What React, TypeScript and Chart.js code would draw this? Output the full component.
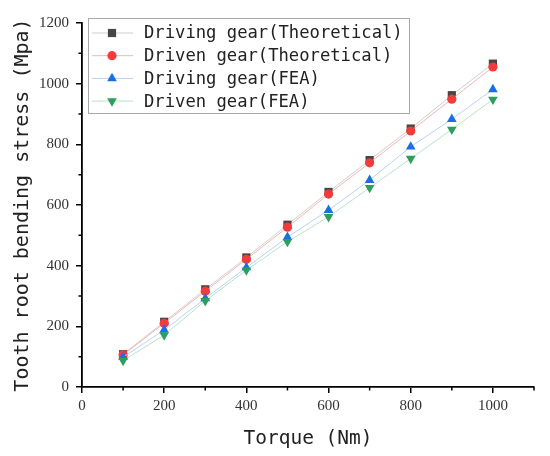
import React, { useEffect, useRef } from "react";
import { Chart, registerables } from "chart.js";

Chart.register(...registerables);

const torque = [100, 200, 300, 400, 500, 600, 700, 800, 900, 1000];
const drivingTheoretical = [108, 215, 322, 427, 535, 643, 748, 852, 962, 1066];
const drivenTheoretical = [106, 210, 316, 421, 527, 636, 739, 844, 949, 1055];
const drivingFEA = [98, 188, 292, 394, 494, 583, 682, 792, 883, 981];
const drivenFEA = [87, 171, 284, 385, 479, 561, 657, 753, 849, 948];

const xMajorTicks = [0, 200, 400, 600, 800, 1000];
const xMinorTicks = [100, 300, 500, 700, 900, 1100];
const yMajorTicks = [0, 200, 400, 600, 800, 1000, 1200];
const yMinorTicks = [100, 300, 500, 700, 900, 1100];

const seriesNames = [
  "Driving gear(Theoretical)",
  "Driven gear(Theoretical)",
  "Driving gear(FEA)",
  "Driven gear(FEA)",
];

const MONO = "'DejaVu Sans Mono', monospace";
const SERIF = "'Liberation Serif', serif";

function drawMarker(ctx: CanvasRenderingContext2D, style: string, rotDeg: number, x: number, y: number, r: number, color: string) {
  ctx.save();
  ctx.fillStyle = color;
  ctx.beginPath();
  if (style === "rect") {
    const s = r * Math.SQRT1_2;
    ctx.rect(x - s, y - s, 2 * s, 2 * s);
  } else if (style === "circle") {
    ctx.arc(x, y, r, 0, Math.PI * 2);
  } else {
    let a = (rotDeg * Math.PI) / 180;
    ctx.moveTo(x + Math.sin(a) * r, y - Math.cos(a) * r);
    a += (2 * Math.PI) / 3;
    ctx.lineTo(x + Math.sin(a) * r, y - Math.cos(a) * r);
    a += (2 * Math.PI) / 3;
    ctx.lineTo(x + Math.sin(a) * r, y - Math.cos(a) * r);
    ctx.closePath();
  }
  ctx.fill();
  ctx.restore();
}

const legendPlugin = {
  id: "customLegend",
  afterDraw(chart: any) {
    const ctx: CanvasRenderingContext2D = chart.ctx;
    const boxL = 88, boxT = 18, boxW = 321, boxH = 95;
    ctx.save();
    ctx.strokeStyle = "#a8a8a8";
    ctx.lineWidth = 1;
    ctx.strokeRect(boxL + 0.5, boxT + 0.5, boxW, boxH);
    chart.data.datasets.forEach((ds: any, i: number) => {
      const y = 33 + i * 22.7;
      ctx.strokeStyle = ds.borderColor;
      ctx.lineWidth = 1;
      ctx.beginPath();
      ctx.moveTo(92, y);
      ctx.lineTo(133, y);
      ctx.stroke();
      drawMarker(ctx, ds.pointStyle, ds.pointRotation || 0, 112, y, ds.pointRadius, ds.pointBackgroundColor);
      ctx.fillStyle = "#222";
      ctx.font = `17.2px ${MONO}`;
      ctx.textBaseline = "middle";
      ctx.textAlign = "left";
      ctx.fillText(ds.label, 144, y + 1);
    });
    ctx.restore();
  },
};

const minorTickPlugin = {
  id: "minorTicks",
  afterDraw(chart: any) {
    const ctx: CanvasRenderingContext2D = chart.ctx;
    const xs = chart.scales.x;
    const ys = chart.scales.y;
    ctx.save();
    ctx.strokeStyle = "#000";
    ctx.lineWidth = 1.5;
    ctx.beginPath();
    xMinorTicks.forEach((v) => {
      const px = xs.getPixelForValue(v);
      ctx.moveTo(px, xs.top);
      ctx.lineTo(px, xs.top + 3.5);
    });
    yMinorTicks.forEach((v) => {
      const py = ys.getPixelForValue(v);
      ctx.moveTo(ys.right, py);
      ctx.lineTo(ys.right - 3.5, py);
    });
    ctx.stroke();
    ctx.restore();
  },
};

export default function App() {
  const ref = useRef<HTMLCanvasElement | null>(null);
  useEffect(() => {
    if (!ref.current) return;
    const mk = (label: string, vals: number[], line: string, fill: string, style: string, rot: number, r: number, order: number) => ({
      label,
      data: torque.map((x, i) => ({ x, y: vals[i] })),
      borderColor: line,
      borderWidth: 1,
      pointStyle: style,
      pointRotation: rot,
      pointRadius: r,
      pointHoverRadius: r,
      pointBackgroundColor: fill,
      pointBorderColor: fill,
      pointBorderWidth: 0,
      showLine: true,
      fill: false,
      tension: 0,
      order,
    });
    const chart = new Chart(ref.current, {
      type: "line",
      data: {
        datasets: [
          mk(seriesNames[0], drivingTheoretical, "#cfcfcf", "#454545", "rect", 0, 5.8, 4),
          mk(seriesNames[1], drivenTheoretical, "#f3b4b4", "#f23b3b", "circle", 0, 4.6, 3),
          mk(seriesNames[2], drivingFEA, "#b9d1f3", "#1c6fe3", "triangle", 0, 5.6, 2),
          mk(seriesNames[3], drivenFEA, "#b8e3c8", "#2e9e5c", "triangle", 180, 5.6, 1),
        ] as any,
      },
      options: {
        animation: false,
        responsive: true,
        maintainAspectRatio: false,
        layout: { padding: { top: 23, right: 16, left: 0, bottom: 0 } },
        plugins: { legend: { display: false }, tooltip: { enabled: false } },
        scales: {
          x: {
            type: "linear",
            min: 0,
            max: 1100,
            afterBuildTicks: (s: any) => {
              s.ticks = xMajorTicks.map((v) => ({ value: v }));
            },
            afterFit: (s: any) => {
              s.height = 69;
            },
            ticks: {
              color: "#333",
              font: { family: SERIF, size: 15 },
              padding: 4,
              maxRotation: 0,
              autoSkip: false,
              callback: (v: any) => String(v),
            },
            grid: { drawOnChartArea: false, tickLength: 6, tickColor: "#000", tickWidth: 1.5, lineWidth: 1.5 },
            border: { color: "#000", width: 1.8 },
            title: {
              display: true,
              text: "Torque (Nm)",
              color: "#222",
              font: { family: MONO, size: 19.5 },
              padding: { top: 0, bottom: 5 },
            },
          },
          y: {
            type: "linear",
            min: 0,
            max: 1200,
            afterBuildTicks: (s: any) => {
              s.ticks = yMajorTicks.map((v) => ({ value: v }));
            },
            afterFit: (s: any) => {
              s.width = 82;
            },
            ticks: {
              color: "#333",
              font: { family: SERIF, size: 15 },
              padding: 7,
              autoSkip: false,
              callback: (v: any) => String(v),
            },
            grid: { drawOnChartArea: false, tickLength: 6, tickColor: "#000", tickWidth: 1.5, lineWidth: 1.5 },
            border: { color: "#000", width: 1.8 },
            title: {
              display: true,
              text: "Tooth root bending stress (Mpa)",
              color: "#222",
              font: { family: MONO, size: 20 },
              padding: { top: 11, bottom: 0 },
            },
          },
        },
      },
      plugins: [minorTickPlugin, legendPlugin],
    });
    return () => chart.destroy();
  }, []);
  return (
    <div style={{ position: "fixed", left: 0, top: 0, width: 550, height: 456, background: "#fff" }}>
      <canvas ref={ref} />
    </div>
  );
}
